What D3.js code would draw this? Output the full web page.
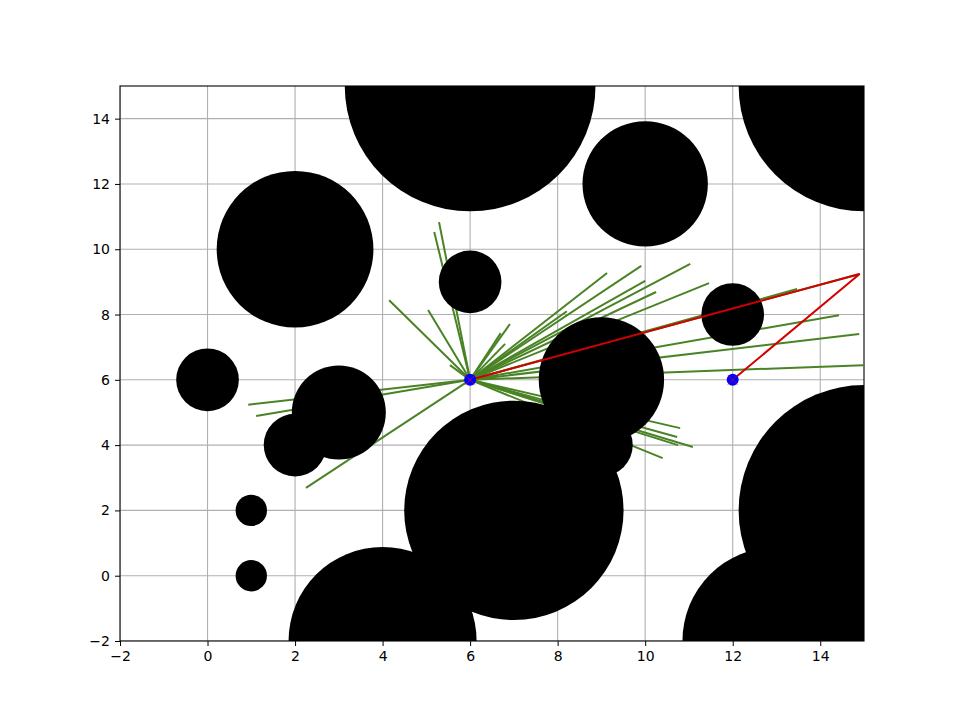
<!DOCTYPE html>
<html><head><meta charset="utf-8">
<script src="https://cdn.jsdelivr.net/npm/d3@7"></script>
<style>body{margin:0;background:#fff}text{font-family:"DejaVu Sans",sans-serif}</style>
</head><body>
<script>
// obstacles: centre x, centre y, size (radius in units of 0.48 y)
var obsX = [0, 2, 6, 10, 15, 6, 12, 3, 2, 9, 9, 7, 1, 1, 4, 15, 13];
var obsY = [6, 10, 15, 12, 15, 9, 8, 5, 4, 6, 4, 2, 2, 0, -2, 2, -2];
var obsS = [2, 5, 8, 4, 8, 2, 2, 3, 2, 4, 2, 7, 1, 1, 6, 8, 6];
// tree edges, all from the start node
var startPt = [6, 6];
var goalPt = [12, 6];
var edgeX = [0.93, 1.11, 2.25, 4.15, 5.04, 5.18, 5.29, 5.54, 9.13, 9.91, 10.0, 10.25, 11.03, 11.46, 6.91, 6.8, 6.7, 8.21, 13.47, 14.43, 14.89, 14.98, 10.8, 10.73, 11.09, 10.75, 10.4, 9.5, 14.9];
var edgeY = [5.24, 4.89, 2.69, 8.44, 8.14, 10.53, 10.83, 6.45, 9.27, 9.49, 9.03, 8.69, 9.55, 8.96, 7.71, 7.1, 7.43, 8.1, 8.78, 7.98, 7.4, 6.45, 4.52, 4.25, 3.94, 4.0, 3.6, 4.5, 9.24];
var pathX = [6, 14.9, 12];
var pathY = [6, 9.24, 6];
var ticks = [-2, 0, 2, 4, 6, 8, 10, 12, 14];

var W = 960, H = 720, L = 120, R = 864, T = 86, B = 641;
var x = d3.scaleLinear().domain([-2, 15]).range([L, R]);
var y = d3.scaleLinear().domain([-2, 15]).range([B, T]);
var rpx = function(s) { return y(0) - y(s * 0.48); };

var svg = d3.select("body").append("svg").attr("width", W).attr("height", H);
svg.append("defs").append("clipPath").attr("id", "clip")
  .append("rect").attr("x", L).attr("y", T).attr("width", R - L).attr("height", B - T);

var g = svg.append("g").attr("clip-path", "url(#clip)");
ticks.forEach(function(t) {
  g.append("line").attr("x1", x(t)).attr("x2", x(t)).attr("y1", T).attr("y2", B)
    .attr("stroke", "#b0b0b0").attr("stroke-width", 1.1);
  g.append("line").attr("y1", y(t)).attr("y2", y(t)).attr("x1", L).attr("x2", R)
    .attr("stroke", "#b0b0b0").attr("stroke-width", 1.1);
});

g.selectAll(".edge").data(edgeX).enter().append("line")
  .attr("x1", x(startPt[0])).attr("y1", y(startPt[1]))
  .attr("x2", function(d) { return x(d); })
  .attr("y2", function(d, i) { return y(edgeY[i]); })
  .attr("stroke", "#4a8325").attr("stroke-width", 2);

g.selectAll(".obs").data(obsX).enter().append("circle")
  .attr("cx", function(d) { return x(d); })
  .attr("cy", function(d, i) { return y(obsY[i]); })
  .attr("r", function(d, i) { return rpx(obsS[i]); })
  .attr("fill", "#000");

g.append("path").datum(pathX)
  .attr("d", d3.line().x(function(d) { return x(d); }).y(function(d, i) { return y(pathY[i]); }))
  .attr("fill", "none").attr("stroke", "#d40000").attr("stroke-width", 2);

[startPt, goalPt].forEach(function(p) {
  g.append("circle").attr("cx", x(p[0])).attr("cy", y(p[1])).attr("r", 6).attr("fill", "#0000ff");
  g.append("path").attr("d", "M-5,-5L5,5M-5,5L5,-5").attr("transform", "translate(" + x(p[0]) + "," + y(p[1]) + ")")
    .attr("stroke", "#ff0000").attr("stroke-width", 1).attr("opacity", 0.6);
});

svg.append("g").attr("transform", "translate(0," + B + ")")
  .call(d3.axisBottom(x).tickValues(ticks).tickSize(5).tickPadding(5).tickFormat(d3.format("d")))
  .call(function(a) { a.select(".domain").remove(); a.selectAll("text").attr("font-size", 14).attr("fill", "#000"); });
svg.append("g").attr("transform", "translate(" + L + ",0)")
  .call(d3.axisLeft(y).tickValues(ticks).tickSize(5).tickPadding(5).tickFormat(d3.format("d")))
  .call(function(a) { a.select(".domain").remove(); a.selectAll("text").attr("font-size", 14).attr("fill", "#000"); });

svg.append("rect").attr("x", L).attr("y", T).attr("width", R - L).attr("height", B - T)
  .attr("fill", "none").attr("stroke", "#000").attr("stroke-width", 1.1);
</script>
</body></html>
